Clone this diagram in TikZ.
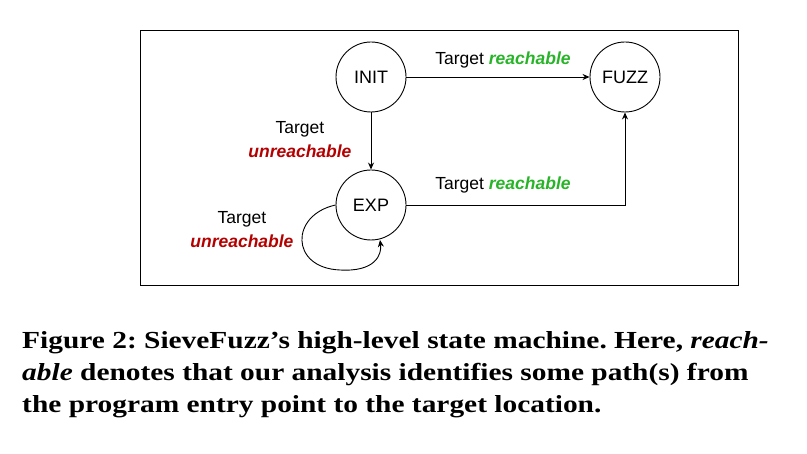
\documentclass[tikz,border=0pt]{standalone}
\usepackage{fontspec}
\setmainfont{Liberation Serif}
\newfontfamily\diagfont{Liberation Sans}
\usetikzlibrary{positioning,arrows.meta}
\definecolor{okgreen}{RGB}{40,180,40}
\definecolor{badred}{RGB}{180,0,0}
\frenchspacing
\begin{document}
\begin{tikzpicture}[x=1pt, y=-1pt,
    state/.style={draw, circle, minimum size=70pt, inner sep=0pt, line width=0.9pt, font=\diagfont\fontsize{18}{20}\selectfont},
    lbl/.style={font=\diagfont\fontsize{17.5}{24}\selectfont, align=center},
    arr/.style={-{Stealth[length=7pt,width=6pt]}, line width=0.9pt}]
    \useasboundingbox (0,0) rectangle (807,454);
    % frame
    \draw[line width=0.9pt] (140,30) rectangle (738,285);
    % states
    \node[state] (init) at (371,77) {INIT};
    \node[state] (fuzz) at (625,77) {FUZZ};
    \node[state] (exp) at (371,205) {EXP};
    % transitions
    \draw[arr] (init) -- (fuzz);
    \node[lbl] (l1) at (503,60) {Target \textcolor{okgreen}{\bfseries\itshape reachable}};
    \draw[arr] (init) -- (exp);
    \node[lbl, anchor=east] (l2) at (355,140) {Target\\\textcolor{badred}{\bfseries\itshape unreachable}};
    \coordinate (corner) at (625,205);
    \draw[arr] (exp) -- (corner) -- (fuzz);
    \node[lbl] (l3) at (503,185) {Target \textcolor{okgreen}{\bfseries\itshape reachable}};
    \draw[arr] (exp.west) .. controls (290,215) and (290,268) .. (340,270)
        .. controls (375,272) and (382,255) .. (380,240);
    \node[lbl, anchor=east] (l4) at (297,230) {Target\\\textcolor{badred}{\bfseries\itshape unreachable}};
    % caption
    \node[anchor=north west, align=left, inner sep=0pt, transform shape, xscale=1.2,
        font=\bfseries\fontsize{24.5}{32}\selectfont] (cap) at (22,331)
        {Figure 2: SieveFuzz’s high-level state machine. Here, \textit{reach-}\\
        \textit{able} denotes that our analysis identifies some path(s) from\\
        the program entry point to the target location.};
\end{tikzpicture}
\end{document}
